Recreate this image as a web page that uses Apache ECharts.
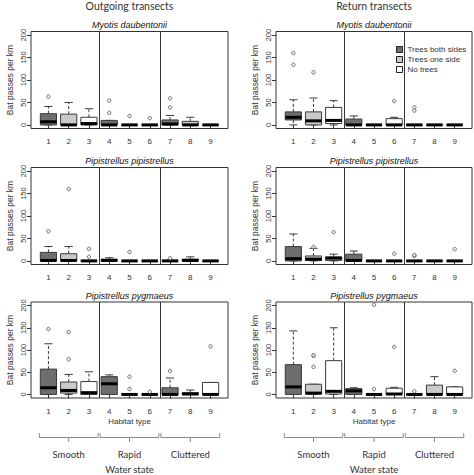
<!DOCTYPE html>
<html><head><meta charset="utf-8">
<script src="https://cdn.jsdelivr.net/npm/echarts@6/dist/echarts.min.js"></script>
<style>html,body{margin:0;padding:0;background:#fff}#c{width:474px;height:475px}</style>
</head><body><div id="c"></div>
<script>
// ---------- data ----------
const habitatTypes = [1, 2, 3, 4, 5, 6, 7, 8, 9];
const habitatNames = ['Trees both sides', 'Trees one side', 'No trees'];
const waterStates = ['Smooth', 'Rapid', 'Cluttered'];
const yTicks = [0, 50, 100, 150, 200];
const transects = ['Outgoing transects', 'Return transects'];
const species = ['Myotis daubentonii', 'Pipistrellus pipistrellus', 'Pipistrellus pygmaeus'];

// each box: [min, q1, median, q3, max] for habitat types 1..9
const outMyotisBox = [[0,0,7,25,41],[0,0,0,24,50],[0,0,3,17,36],[0,0,0,10,10],[0,0,0,0,0],[0,0,0,0,0],[0,0,2,11,21],[0,0,0,8,17],[0,0,0,0,0]];
const outMyotisOut = [[63],[],[],[27,54],[20],[15],[39,59],[],[]];
const retMyotisBox = [[0,11,17,29,56],[0,0,9,29,60],[0,3,10,39,54],[0,0,0,13,20],[0,0,0,0,0],[0,0,0,14,17],[0,0,0,0,0],[0,0,0,0,0],[0,0,0,0,0]];
const retMyotisOut = [[134,160],[117],[],[],[],[53],[32,39],[],[]];
const outPipBox = [[0,0,1,19,32],[0,0,1,16,32],[0,0,0,1,1],[0,0,1,4,7],[0,0,0,0,0],[0,0,0,0,0],[0,0,0,1,2],[0,0,1,4,9],[0,0,0,0,0]];
const outPipOut = [[66],[160],[9,27],[],[20],[],[6],[],[]];
const retPipBox = [[0,0,5,32,60],[0,1,4,11,28],[0,1,6,9,15],[0,0,1,15,22],[0,0,0,0,0],[0,0,0,0,0],[0,0,0,0,0],[0,0,0,0,0],[0,0,0,0,0]];
const retPipOut = [[],[31],[64],[],[],[16],[11,13],[],[26]];
const outPygBox = [[0,0,15,57,114],[0,3,9,28,45],[0,0,4,29,51],[0,0,24,40,44],[0,0,0,0,0],[0,0,0,0,0],[0,0,0,15,37],[0,0,1,4,10],[0,0,0,27,27]];
const outPygOut = [[147],[79,140],[],[],[12,40],[6],[53],[],[108]];
const retPygBox = [[0,0,17,67,143],[0,1,3,23,23],[0,1,7,76,150],[0,0,8,13,15],[0,0,0,0,0],[0,0,1,14,16],[0,0,0,0,0],[0,0,0,21,40],[0,0,0,17,17]];
const retPygOut = [[],[62,87,88],[],[],[12,202],[107],[7],[],[53]];

const panelBoxes = [outMyotisBox, retMyotisBox, outPipBox, retPipBox, outPygBox, retPygBox];
const panelOutliers = [outMyotisOut, retMyotisOut, outPipOut, retPipOut, outPygOut, retPygOut];

// ---------- style / layout ----------
const habitatFill = ['#6e6e6e', '#cacaca', '#ffffff'];
const colLeft = [31, 276], colWidth = [197, 196];
const rowTop = [31.5, 167.5, 302], rowHeight = [97, 97, 96];
const AX = "'Liberation Sans', Arial, sans-serif";
const CAL = "Lato, 'Open Sans', sans-serif";
const TXT = '#333';

function renderBox(params, api) {
  const x = api.value(0);
  const mn = api.value(1), q1 = api.value(2), md = api.value(3), q3 = api.value(4), mx = api.value(5);
  const half = 0.4, cap = 0.2;
  const c = (xx, yy) => api.coord([xx, yy]);
  const edge = '#3a3a3a';
  const seg = (a, b, style) => ({ type: 'line', shape: { x1: a[0], y1: a[1], x2: b[0], y2: b[1] }, style });
  const tl = c(x - half, q3), br = c(x + half, q1);
  return {
    type: 'group',
    children: [
      seg(c(x, q3), c(x, mx), { stroke: edge, lineWidth: 1, lineDash: [3, 2] }),
      seg(c(x, q1), c(x, mn), { stroke: edge, lineWidth: 1, lineDash: [3, 2] }),
      seg(c(x - cap, mx), c(x + cap, mx), { stroke: edge, lineWidth: 1 }),
      seg(c(x - cap, mn), c(x + cap, mn), { stroke: edge, lineWidth: 1 }),
      { type: 'rect', shape: { x: tl[0], y: tl[1], width: br[0] - tl[0], height: Math.max(br[1] - tl[1], 0.01) },
        style: { fill: api.visual('color'), stroke: edge, lineWidth: 1 } },
      seg(c(x - half, md), c(x + half, md), { stroke: '#000', lineWidth: 3 })
    ]
  };
}

const grids = [], xAxes = [], yAxes = [], series = [];
const boundaries = waterStates.slice(1).map((w, i) => (i + 1) * 3 + 0.5);

for (let g = 0; g < 6; g++) {
  const row = Math.floor(g / 2), col = g % 2;
  grids.push({ left: colLeft[col], top: rowTop[row], width: colWidth[col], height: rowHeight[row],
    show: true, borderColor: '#333', borderWidth: 1, backgroundColor: 'transparent', containLabel: false, outerBoundsMode: 'none' });
  xAxes.push({
    type: 'value', gridIndex: g, min: 0.14, max: 9.86,
    axisLine: { show: false }, splitLine: { show: false },
    axisTick: { show: true, customValues: habitatTypes, length: 4, lineStyle: { color: '#333' } },
    axisLabel: { customValues: habitatTypes, fontSize: 8, color: TXT, fontFamily: AX, margin: 9 },
    name: row === 2 ? 'Habitat type' : '', nameLocation: 'middle', nameGap: 19,
    nameTextStyle: { fontSize: 8, color: TXT, fontFamily: AX }
  });
  yAxes.push({
    type: 'value', gridIndex: g, min: -8, max: 208,
    axisLine: { show: false }, splitLine: { show: false },
    axisTick: { show: true, customValues: yTicks, length: 4, lineStyle: { color: '#333' } },
    axisLabel: { customValues: yTicks, rotate: 90, fontSize: 7.5, color: TXT, fontFamily: AX, margin: 4 },
    name: 'Bat passes per km', nameLocation: 'middle', nameGap: 17,
    nameTextStyle: { fontSize: 8.5, color: TXT, fontFamily: AX }
  });
  const box = panelBoxes[g];
  for (let h = 0; h < 3; h++) {
    series.push({
      type: 'custom', name: habitatNames[h], xAxisIndex: g, yAxisIndex: g,
      itemStyle: { color: habitatFill[h] },
      encode: { x: 0, y: [1, 2, 3, 4, 5] },
      data: [h, h + 3, h + 6].map(i => [habitatTypes[i]].concat(box[i])),
      renderItem: renderBox, silent: true
    });
  }
  const outs = [];
  panelOutliers[g].forEach((arr, i) => arr.forEach(v => outs.push([habitatTypes[i], v])));
  series.push({
    type: 'scatter', xAxisIndex: g, yAxisIndex: g, data: outs, symbol: 'circle', symbolSize: 3.5,
    itemStyle: { color: '#eee', borderColor: '#555', borderWidth: 1 }, silent: true, z: 3,
    markLine: { silent: true, symbol: ['none', 'none'], label: { show: false },
      lineStyle: { color: '#333', width: 1, type: 'solid' },
      data: boundaries.map(b => ({ xAxis: b })) }
  });
}

const chart = echarts.init(document.getElementById('c'), null, { renderer: 'svg' });
chart.setOption({
  animation: false,
  backgroundColor: '#fff',
  grid: grids, xAxis: xAxes, yAxis: yAxes, series: series,
  legend: {
    data: habitatNames, orient: 'vertical', left: 391, top: 40,
    itemWidth: 6, itemHeight: 6, itemGap: 1, icon: 'rect',
    itemStyle: { borderColor: '#222', borderWidth: 1 },
    textStyle: { fontSize: 8, color: TXT, fontFamily: AX, lineHeight: 9 },
    selectedMode: false
  }
});

// annotations (titles, species labels, water-state brackets)
const graphics = [];
const speciesY = [25, 161, 296];
for (let col = 0; col < 2; col++) {
  const cx = chart.convertToPixel({ gridIndex: col }, [5, 0])[0];
  graphics.push({ type: 'text', style: { text: transects[col], x: cx, y: 6, align: 'center', verticalAlign: 'middle',
    fontSize: 10.5, fontFamily: CAL, fill: TXT } });
  for (let row = 0; row < 3; row++) {
    graphics.push({ type: 'text', style: { text: species[row], x: cx, y: speciesY[row], align: 'center', verticalAlign: 'middle',
      fontSize: 9, fontStyle: 'italic', fontFamily: AX, fill: '#111' } });
  }
  const g = 4 + col;
  waterStates.forEach((w, k) => {
    const x0 = chart.convertToPixel({ gridIndex: g }, [habitatTypes[k * 3] - 0.45, 0])[0];
    const x1 = chart.convertToPixel({ gridIndex: g }, [habitatTypes[k * 3 + 2] + 0.45, 0])[0];
    const xc = chart.convertToPixel({ gridIndex: g }, [habitatTypes[k * 3 + 1], 0])[0];
    graphics.push({ type: 'polyline', shape: { points: [[x0, 433], [x0, 437.5], [x1, 437.5], [x1, 433]] },
      style: { stroke: '#8a8a8a', lineWidth: 1, fill: null } });
    graphics.push({ type: 'line', shape: { x1: xc, y1: 437.5, x2: xc, y2: 442 }, style: { stroke: '#8a8a8a', lineWidth: 1 } });
    graphics.push({ type: 'text', style: { text: w, x: xc, y: 454, align: 'center', verticalAlign: 'middle',
      fontSize: 9.5, fontFamily: CAL, fill: TXT } });
  });
  graphics.push({ type: 'text', style: { text: 'Water state', x: cx, y: 469, align: 'center', verticalAlign: 'middle',
    fontSize: 9.5, fontFamily: CAL, fill: TXT } });
}
chart.setOption({ graphic: graphics });
</script></body></html>
